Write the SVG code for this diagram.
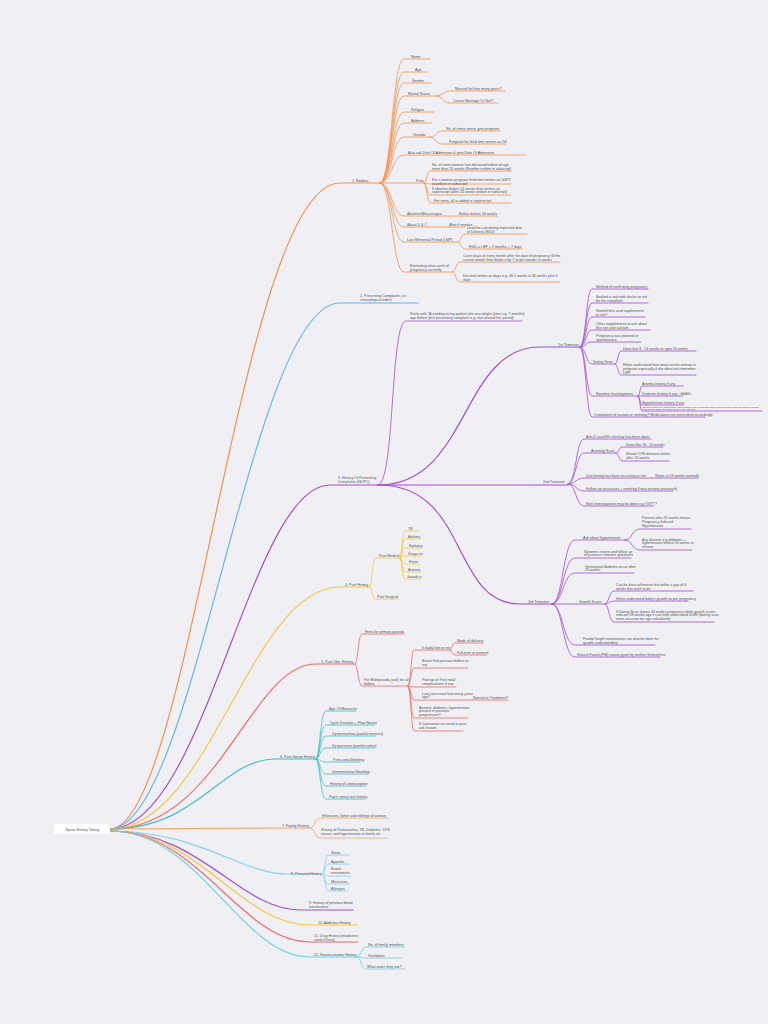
<svg xmlns="http://www.w3.org/2000/svg" width="768" height="1024" viewBox="0 0 768 1024">
<style>
.t{font-family:"Liberation Sans",Arial,sans-serif;font-size:3.6px;fill:#555}
.s{font-size:2.3px}
path{fill:none;stroke-linecap:round}
.m{stroke-width:1.2}
.l{stroke-width:0.8}
.o{stroke:#f5934e}.b{stroke:#66b8f2}.p{stroke:#a24fd6}.y{stroke:#f5c842}.r{stroke:#f06a6a}.tl{stroke:#3fbfc6}.o2{stroke:#f7a868}.lb{stroke:#84d3f5}.c{stroke:#6fd4e4}
</style>
<rect width="768" height="1024" fill="#efeff4"/>
<g id="connectors">
<path class="m o" d="M110 829 C190 829 240 183 340 183 H380"/>
<path class="m b" d="M110 829 C195 829 250 303 340 303 H418"/>
<path class="m p" d="M110 829 C205 829 250 485 330 485 H378"/>
<path class="m y" d="M110 829 C210 829 250 587 340 587 H370"/>
<path class="m r" d="M110 829 C220 829 250 664 316 664 H355"/>
<path class="m tl" d="M110 829 C200 829 220 759 276 759 H316"/>
<path class="m o2" d="M110 829 C200 829 250 828 280 828 H310"/>
<path class="m lb" d="M110 831 C200 831 240 874 288 874 H322"/>
<path class="m p" d="M110 831 C200 831 240 910 300 910 H353"/>
<path class="m y" d="M110 831 C200 831 240 925 310 925 H358"/>
<path class="m r" d="M110 831 C200 831 240 942 310 942 H358"/>
<path class="m c" d="M110 831 C200 831 240 957 310 957 H357"/>
<!-- biodata -->
<g class="l o">
<path d="M380 183 C392 183 392 59 404 59 H430"/>
<path d="M380 183 C392 183 392 72 404 72 H427"/>
<path d="M380 183 C392 183 392 83 404 83 H431"/>
<path d="M380 183 C392 183 392 96 404 96 H436"/>
<path d="M436 96 C443 96 443 91 450 91 H505"/>
<path d="M436 96 C443 96 443 103 450 103 H498"/>
<path d="M380 183 C392 183 392 112 404 112 H433"/>
<path d="M380 183 C392 183 392 123 404 123 H432"/>
<path d="M380 183 C392 183 392 137 404 137 H430"/>
<path d="M430 137 C436 137 436 131 442 131 H500"/>
<path d="M430 137 C436 137 436 144 442 144 H505"/>
<path d="M380 183 C392 183 392 155 404 155 H525"/>
<path d="M380 183 H424"/>
<path d="M424 183 C427 183 427 171 430 171 H511"/>
<path d="M424 183 C427 183 427 184 430 184 H511"/>
<path d="M424 183 C427 183 427 195 430 195 H511"/>
<path d="M424 183 C427 183 427 203 430 203 H511"/>
<path d="M380 183 C392 183 392 216 404 216 H497"/>
<path d="M380 183 C392 183 392 227 404 227 H465"/>
<path d="M380 183 C392 183 392 242 404 242 H458"/>
<path d="M458 242 C461 242 461 234 465 234 H527"/>
<path d="M458 242 C461 242 461 249 465 249 H522"/>
<path d="M380 183 C392 183 392 272 404 272 H452"/>
<path d="M452 272 C456 272 456 262 460 262 H560"/>
<path d="M452 272 C456 272 456 282 460 282 H560"/>
</g>
<!-- HOPC -->
<g class="l p">
<path d="M378 485 C395 485 390 321 406 321 H522"/>
<path class="m" d="M378 485 C470 485 460 347 540 347 H580"/>
<path class="m" d="M378 485 H568"/>
<path class="m" d="M378 485 C470 485 450 604 520 604 H552"/>
<path d="M580 347 C586 347 586 289 592 289 H648"/>
<path d="M580 347 C586 347 586 303 592 303 H648"/>
<path d="M580 347 C586 347 586 317 592 317 H645"/>
<path d="M580 347 C586 347 586 330 592 330 H650"/>
<path d="M580 347 C586 347 586 342 592 342 H641"/>
<path d="M580 347 C586 347 586 364 592 364 H615"/>
<path d="M615 364 C618 364 618 351 621 351 H696"/>
<path d="M615 364 C618 364 618 375 621 375 H696"/>
<path d="M580 347 C586 347 586 396 592 396 H638"/>
<path d="M638 396 C640 396 640 386 642 386 H683"/>
<path d="M638 396 H683"/>
<path d="M638 396 C640 396 640 405 642 405 H683"/>
<path d="M638 396 C640 396 640 411 642 411 H762"/>
<path d="M580 347 C586 347 586 417 592 417 H705"/>
<path d="M568 484 C576 484 576 439 584 439 H651"/>
<path d="M568 484 C576 484 576 453 584 453 H616"/>
<path d="M616 453 C619 453 619 447 622 447 H663"/>
<path d="M616 453 C619 453 619 461 622 461 H669"/>
<path d="M568 484 C576 484 576 478 584 478 H698"/>
<path d="M568 484 C576 484 576 491 584 491 H673"/>
<path d="M568 484 C576 484 576 506 584 506 H653"/>
<path d="M552 604 C563 604 563 540 575 540 H625"/>
<path d="M625 540 C632 540 632 529 640 529 H691"/>
<path d="M625 540 C632 540 632 550 640 550 H692"/>
<path d="M552 604 C563 604 563 558 575 558 H631"/>
<path d="M552 604 C563 604 563 573 575 573 H634"/>
<path d="M552 604 H605"/>
<path d="M605 604 C609 604 609 591 614 591 H693"/>
<path d="M605 604 C609 604 609 601 614 601 H688"/>
<path d="M605 604 C609 604 609 622 614 622 H714"/>
<path d="M552 604 C563 604 563 645 575 645 H655"/>
<path d="M552 604 C563 604 563 657 575 657 H660"/>
</g>
<g class="l y">
<path d="M370 587 C372 587 372 558 376 558 H400"/>
<path d="M370 587 C372 587 372 599 376 599 H398"/>
<path d="M400 558 C402 558 402 531 405 531 H418"/>
<path d="M400 558 C402 558 402 539 405 539 H421"/>
<path d="M400 558 C402 558 402 548 405 548 H421"/>
<path d="M400 558 C402 558 402 556 405 556 H421"/>
<path d="M400 558 C402 558 402 564 405 564 H420"/>
<path d="M400 558 C402 558 402 572 405 572 H421"/>
<path d="M400 558 C402 558 402 579 405 579 H421"/>
</g>
<g class="l r">
<path d="M355 664 C358 664 358 634 362 634 H404"/>
<path d="M355 664 C358 664 358 686 362 686 H408"/>
<path d="M408 686 C411 686 411 650 414 650 H450"/>
<path d="M450 650 C452 650 452 643 455 643 H483"/>
<path d="M450 650 C452 650 452 655 455 655 H487"/>
<path d="M408 686 C411 686 411 668 414 668 H468"/>
<path d="M408 686 C411 686 411 687 414 687 H456"/>
<path d="M408 686 C411 686 411 700 414 700 H508"/>
<path d="M408 686 C411 686 411 718 414 718 H468"/>
<path d="M408 686 C411 686 411 731 414 731 H463"/>
</g>
<g class="l tl">
<path d="M316 759 C320 759 320 711 326 711 H356"/>
<path d="M316 759 C320 759 320 725 326 725 H375"/>
<path d="M316 759 C320 759 320 736 326 736 H376"/>
<path d="M316 759 C320 759 320 748 326 748 H375"/>
<path d="M316 759 C320 759 320 762 326 762 H360"/>
<path d="M316 759 C320 759 320 774 326 774 H368"/>
<path d="M316 759 C320 759 320 786 326 786 H366"/>
<path d="M316 759 C320 759 320 799 326 799 H365"/>
</g>
<g class="l o2">
<path d="M310 828 C315 828 315 818 320 818 H388"/>
<path d="M310 828 C315 828 315 838 320 838 H388"/>
</g>
<g class="l lb">
<path d="M322 874 C325 874 325 855 328 855 H350"/>
<path d="M322 874 C325 874 325 864 328 864 H350"/>
<path d="M322 874 C325 874 325 876 328 876 H350"/>
<path d="M322 874 C325 874 325 884 328 884 H350"/>
<path d="M322 874 C325 874 325 891 328 891 H348"/>
</g>
<g class="l c">
<path d="M357 957 C361 957 361 947 366 947 H405"/>
<path d="M357 957 C361 957 361 958 366 958 H402"/>
<path d="M357 957 C361 957 361 969 366 969 H405"/>
</g>
</g>
<g id="root"><rect x="54" y="824" width="56" height="10" rx="2" fill="#fff"/><text class="t" x="82" y="830.5" text-anchor="middle">Gynae  History Taking</text></g>
<g id="biodata" class="t">
<text class="t" x="352" y="181.5">1. Biodata</text>
<text class="t" x="411" y="57.5">Name</text>
<text class="t" x="415" y="70.5">Age</text>
<text class="t" x="412" y="81.5">Gender</text>
<text class="t" x="408" y="94.5">Marital Status</text>
<text class="t" x="455" y="89.5">Married for how many years?</text>
<text class="t" x="453" y="101.5">Cousin Marriage Or Not?</text>
<text class="t" x="411" y="110.5">Religion</text>
<text class="t" x="411" y="121.5">Address</text>
<text class="t" x="413" y="135.5">Gravida</text>
<text class="t" x="446" y="129.5">No. of times uterus gets pregnant</text>
<text class="t" x="449" y="142.5">Pregnant for third time written as G3</text>
<text class="t" x="408" y="153.5">Also ask Date Of Admission &amp; post Date Of Admission</text>
<text class="t" x="416" y="181.5">Para</text>
<text class="t" x="432" y="165.5">No. of times woman has delivered babies of age<tspan x="432" dy="4">more than 24 weeks (Number written in subscript)</tspan></text>
<text class="t" x="432" y="180.5">For a woman pregnant third time written as G3P2<tspan x="432" dy="4">(numbers in subscript)</tspan></text>
<text class="t" x="432" y="189.5">If abortion before 24 weeks then written as<tspan x="432" dy="3.6">superscript (after 24 weeks written in subscript)</tspan></text>
<text class="t" x="434" y="201.5">For twins, all is added in superscript</text>
<text class="t" x="407" y="214.5">Abortion/Miscarriages</text>
<text class="t" x="459" y="214.5">Before before 24 weeks</text>
<text class="t" x="407" y="225.5">About D &amp; C</text>
<text class="t" x="449" y="225.5">After 6 months</text>
<text class="t" x="407" y="240.5">Last Menstrual Period (LMP)</text>
<text class="t" x="467" y="229">Used for calculating expected date<tspan x="467" dy="3.8">of Delivery (EDD)</tspan></text>
<text class="t" x="469" y="247.5">EDD = LMP + 9 months + 7 days</text>
<text class="t" x="410" y="266.5">Estimating what week of<tspan x="410" dy="4">pregnancy currently</tspan></text>
<text class="t" x="463" y="257">Count days of every month after the date of pregnancy till the<tspan x="463" dy="3.8">current month then divide it by 7 to get answer in weeks</tspan></text>
<text class="t" x="463" y="277">Decimal written as days e.g. 36.5 weeks is 36 weeks plus 5<tspan x="463" dy="3.8">days</tspan></text>
</g>
<g id="complaints"><text class="t" x="360" y="297">2. Presenting Complaints ( in<tspan x="360" dy="4">chronological order)</tspan></text></g>
<g id="hopc">
<text class="t" x="338" y="479">3. History Of Presenting<tspan x="338" dy="4">Complaints (HOPC)</tspan></text>
<text class="t" x="410" y="315">Starts with "According to my patient she was alright (time e.g. 7 months)<tspan x="410" dy="4">ago before [first presenting complaint e.g. she missed her period]</tspan></text>
<text class="t" x="558" y="345.5">1st Trimester</text>
<text class="t" x="543" y="482.5">2nd Trimester</text>
<text class="t" x="528" y="602.5">3rd Trimester</text>
<text class="t" x="596" y="287.5">Method of confirming pregnancy</text>
<text class="t" x="596" y="297.5">Booked a visit with doctor or not<tspan x="596" dy="4">for the complaint</tspan></text>
<text class="t" x="596" y="311.5">Started folic acid supplements<tspan x="596" dy="4">or not?</tspan></text>
<text class="t" x="596" y="324.5">Other supplements to ask about<tspan x="596" dy="4">like iron and calcium</tspan></text>
<text class="t" x="596" y="336.5">Pregnancy was planned or<tspan x="596" dy="4">spontaneous</tspan></text>
<text class="t" x="593" y="362.5">Dating Scan</text>
<text class="t" x="623" y="349.5">Done b/w 8 - 13 weeks or upto 16 weeks</text>
<text class="t" x="623" y="366">Helps understand how many weeks woman is<tspan x="623" dy="3.8">pregnant especially if she does not remember</tspan><tspan x="623" dy="3.8">LMP</tspan></text>
<text class="t" x="596" y="394.5">Baseline Investigations</text>
<text class="t" x="642" y="384.5">Anemia history if any</text>
<text class="t" x="642" y="394.5">Diabetes history if any - HbA1c</text>
<text class="t" x="642" y="403.5">Hypertension history if any</text>
<text class="t s" x="642" y="408">Thyroid function test, blood group, viral markers, urine examination and complete blood count may also be advised</text>
<text class="t s" x="642" y="410.3">according to doctor and history taken in the first visit</text>
<text class="t" x="594" y="415.5">Complaints of nausea or vomiting? Medications are prescribed accordingly</text>
<text class="t" x="586" y="437.5">Anti-D scan/Rh checkup has been done</text>
<text class="t" x="591" y="451.5">Anomaly Scan</text>
<text class="t" x="626" y="445.5">Done b/w 18 - 20 weeks</text>
<text class="t" x="626" y="455">Shows CVS diseases better<tspan x="626" dy="3.8">after 20 weeks</tspan></text>
<text class="t" x="586" y="476.5">Quickening has been occurring or not</text>
<text class="t" x="655" y="476.5">Starts at 18 weeks normally</text>
<text class="t" x="586" y="489.5">Follow up on nausea + vomiting if was present previously</text>
<text class="t" x="586" y="504.5">Next investigations may be done e.g OGTT?</text>
<text class="t" x="583" y="538.5">Ask about hypertension</text>
<text class="t" x="642" y="519">Present after 20 weeks means<tspan x="642" dy="3.8">Pregnancy Induced</tspan><tspan x="642" dy="3.8">Hypertension</tspan></text>
<text class="t" x="642" y="540.5">Any disease e.g diabetes +<tspan x="642" dy="3.8">hypertension before 20 weeks is</tspan><tspan x="642" dy="3.8">chronic</tspan></text>
<text class="t" x="584" y="552.5">Systemic review and follow up<tspan x="584" dy="3.8">of previous trimester questions</tspan></text>
<text class="t" x="585" y="567.5">Gestational diabetes occur after<tspan x="585" dy="3.8">20 weeks</tspan></text>
<text class="t" x="579" y="602.5">Growth Scans</text>
<text class="t" x="616" y="586">Can be done whenever but within a gap of 4<tspan x="616" dy="3.8">weeks b/w each scan</tspan></text>
<text class="t" x="616" y="599.5">Helps understand baby's growth as per pregnancy</text>
<text class="t" x="616" y="612.5">If Dating Scan shows 34 weeks pregnancy while growth scans<tspan x="616" dy="3.8">indicate 28 weeks age it can help understand IUGR (dating scan</tspan><tspan x="616" dy="3.8">more accurate for age calculation)</tspan></text>
<text class="t" x="583" y="640">Fundal height examination can also be done for<tspan x="583" dy="3.8">growth understanding</tspan></text>
<text class="t" x="577" y="655.5">Natural Foetal (FM) counts given by mother themselves</text>
</g>
<g id="past-history">
<text class="t" x="345" y="585.5">4. Past History</text>
<text class="t" x="379" y="556.5">Past Medical</text>
<text class="t" x="408" y="529.5">TB</text>
<text class="t" x="408" y="537.5">Asthma</text>
<text class="t" x="409" y="546.5">Epilepsy</text>
<text class="t" x="408" y="554.5">Drugs etc</text>
<text class="t" x="409" y="562.5">Fever</text>
<text class="t" x="408" y="570.5">Anemia</text>
<text class="t" x="407" y="577.5">Jaundice</text>
<text class="t" x="377" y="597.5">Past Surgical</text>
</g>
<g id="past-obs">
<text class="t" x="321" y="662.5">5. Past Obs. History</text>
<text class="t" x="365" y="632.5">Hints for primary gravida</text>
<text class="t" x="364" y="680.5">For Multigravida (ask) for all<tspan x="364" dy="4">babies</tspan></text>
<text class="t" x="422" y="648.5">Is baby live or not</text>
<text class="t" x="457" y="641.5">Mode of delivery</text>
<text class="t" x="457" y="653.5">Full term or preterm</text>
<text class="t" x="422" y="662">Breast fed previous babies or<tspan x="422" dy="3.8">not</tspan></text>
<text class="t" x="422" y="681">Post op or Post natal<tspan x="422" dy="3.8">complications if any</tspan></text>
<text class="t" x="422" y="694.5">Last conceived how many years<tspan x="422" dy="3.8">ago?</tspan></text>
<text class="t" x="473" y="698.5">Natural or Treatment?</text>
<text class="t" x="419" y="708.5">Anemia, diabetes, hypertension<tspan x="419" dy="3.8">present in previous</tspan><tspan x="419" dy="3.8">pregnancies?</tspan></text>
<text class="t" x="419" y="725">If Caesarean occurred in past<tspan x="419" dy="3.8">ask reason</tspan></text>
</g>
<g id="past-gynae">
<text class="t" x="280" y="757.5">6. Past Gynae History</text>
<text class="t" x="329" y="709.5">Age Of Menarche</text>
<text class="t" x="330" y="723.5">Cycle Duration + Flow Nature</text>
<text class="t" x="332" y="734.5">Dysmenorrhea (painful menses)</text>
<text class="t" x="332" y="746.5">Dyspareunia (painful coitus)</text>
<text class="t" x="333" y="760.5">Post-coital bleeding</text>
<text class="t" x="332" y="772.5">Intermenstrual bleeding</text>
<text class="t" x="330" y="784.5">History of contraception</text>
<text class="t" x="329" y="797.5">Pap's smear test history</text>
</g>
<g id="family">
<text class="t" x="282" y="826.5">7. Family History</text>
<text class="t" x="322" y="816.5">Ethnicities, father and siblings of woman</text>
<text class="t" x="321" y="831">History of Thalassemia, TB, Diabetes, CVS<tspan x="321" dy="4">issues, and hypertension in family etc</tspan></text>
</g>
<g id="personal">
<text class="t" x="291" y="875">8. Personal History</text>
<text class="t" x="331" y="853.5">Sleep</text>
<text class="t" x="331" y="862.5">Appetite</text>
<text class="t" x="331" y="870">Bowel<tspan x="331" dy="4">movements</tspan></text>
<text class="t" x="331" y="882.5">Micturition</text>
<text class="t" x="331" y="889.5">Allergies</text>
</g>
<g id="transfusions"><text class="t" x="309" y="904">9. History of previous blood<tspan x="309" dy="4">transfusions</tspan></text></g>
<g id="addiction"><text class="t" x="318" y="923.5">10. Addiction History</text></g>
<g id="drug"><text class="t" x="314" y="936.5">11. Drug History (medicines<tspan x="314" dy="4">used if there)</tspan></text></g>
<g id="socio">
<text class="t" x="314" y="955.5">12. Socioeconomic History</text>
<text class="t" x="368" y="945.5">No. of family members</text>
<text class="t" x="368" y="956.5">Ventilation</text>
<text class="t" x="367" y="967.5">What water they use?</text>
</g>
</svg>
